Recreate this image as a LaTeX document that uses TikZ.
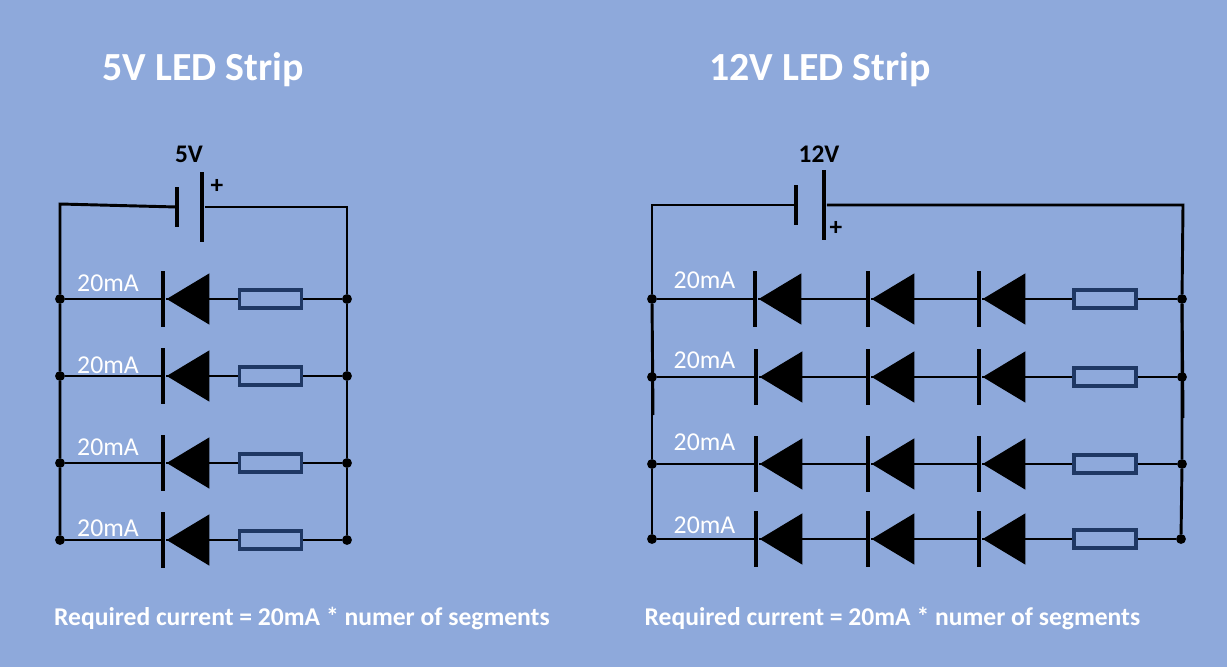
\documentclass[tikz,border=0pt]{standalone}
\usepackage{fontspec}
\setmainfont{Carlito}
\usetikzlibrary{shapes.geometric}
\definecolor{bgblue}{HTML}{8EA9DB}
\definecolor{resblue}{HTML}{1F3864}
\tikzset{
    wire/.style={draw=black, line width=2.2pt},
    dot/.style={circle, fill=black, inner sep=0pt, minimum size=7.4pt},
    barlong/.style={rectangle, fill=black, inner sep=0pt, minimum width=2.5pt, minimum height=42pt},
    tri/.style={isosceles triangle, isosceles triangle stretches, shape border rotate=180, fill=black, inner sep=0pt, minimum height=32pt, minimum width=38.5pt, anchor=apex},
    res/.style={rectangle, draw=resblue, line width=2.5pt, inner sep=0pt, minimum width=46.5pt, minimum height=13.5pt},
    cellshort/.style={rectangle, fill=black, inner sep=0pt, minimum width=2.5pt, minimum height=30pt},
    celllong/.style={rectangle, fill=black, inner sep=0pt, minimum width=2.5pt, minimum height=53pt},
    title/.style={text=white, font=\fontsize{29.9}{32}\selectfont\bfseries},
    volt/.style={text=black, font=\fontsize{19}{21}\selectfont\bfseries},
    amps/.style={text=white, font=\fontsize{19.3}{21}\selectfont},
    note/.style={text=white, font=\fontsize{19.2}{21}\selectfont\bfseries}
}
\begin{document}
\begin{tikzpicture}[x=0.75pt, y=-0.75pt]
    % the background
    \fill[bgblue] (0,0) rectangle (1227,667);
    \useasboundingbox (0,0) rectangle (1227,667);

    % the texts
    \node[title] (title5) at (203,70) {5V LED Strip};
    \node[title] (title12) at (820,70) {12V LED Strip};
    \node[volt] (volt5) at (189,154) {5V};
    \node[volt] (volt12) at (819,154) {12V};
    \node[volt] (plus5) at (217,186) {+};
    \node[volt] (plus12) at (836,228) {+};
    \node[note] (note5) at (302,619) {Required current = 20mA * numer of segments};
    \node[note] (note12) at (892.5,619) {Required current = 20mA * numer of segments};
    \node[amps] (amp1) at (108,283) {20mA};
    \node[amps] (amp2) at (108,365) {20mA};
    \node[amps] (amp3) at (108,447) {20mA};
    \node[amps] (amp4) at (108,528) {20mA};
    \node[amps] (amp5) at (704.5,280) {20mA};
    \node[amps] (amp6) at (704.5,360) {20mA};
    \node[amps] (amp7) at (704.5,442) {20mA};
    \node[amps] (amp8) at (704.5,525) {20mA};

    % 5V strip: battery and corners
    \node[cellshort] (cs5) at (177,207) {};
    \node[celllong] (cl5) at (202,207) {};
    \coordinate (lc5) at (60,204);
    \coordinate (rc5) at (347,207);

    % 5V strip: the junctions
    \node[dot] (la1) at (60,299) {};
    \node[dot] (la2) at (60,376) {};
    \node[dot] (la3) at (60,463) {};
    \node[dot] (la4) at (60,540) {};
    \node[dot] (ra1) at (347,299) {};
    \node[dot] (ra2) at (347,376) {};
    \node[dot] (ra3) at (347,463) {};
    \node[dot] (ra4) at (347,540) {};

    % 5V strip: the diodes and resistors
    \node[barlong] (ba1) at (163,299) {};
    \node[barlong] (ba2) at (163,376) {};
    \node[barlong] (ba3) at (163,463) {};
    \node[barlong] (ba4) at (163,540) {};
    \node[tri] (ta1) at (166,299) {};
    \node[tri] (ta2) at (166,376) {};
    \node[tri] (ta3) at (166,463) {};
    \node[tri] (ta4) at (166,540) {};
    \node[res] (ma1) at (270.5,299) {};
    \node[res] (ma2) at (270.5,376) {};
    \node[res] (ma3) at (270.5,463) {};
    \node[res] (ma4) at (270.5,540) {};

    % 5V strip: the wires
    \draw[wire] (cs5) -- (lc5) -- (la1) -- (la2) -- (la3) -- (la4);
    \draw[wire] (cl5.east) ++(1,0) -- (rc5) -- (ra1) -- (ra2) -- (ra3) -- (ra4);
    \draw[wire] (la1) -- (ba1);
    \draw[wire] (la2) -- (ba2);
    \draw[wire] (la3) -- (ba3);
    \draw[wire] (la4) -- (ba4);
    \draw[wire] (ta1.apex) -- (ma1);
    \draw[wire] (ta2.apex) -- (ma2);
    \draw[wire] (ta3.apex) -- (ma3);
    \draw[wire] (ta4.apex) -- (ma4);
    \draw[wire] (ma1) -- (ra1);
    \draw[wire] (ma2) -- (ra2);
    \draw[wire] (ma3) -- (ra3);
    \draw[wire] (ma4) -- (ra4);

    % 12V strip: battery and corners
    \node[cellshort] (cs12) at (796,205) {};
    \node[celllong] (cl12) at (824,205) {};
    \coordinate (lc12) at (652,205);
    \coordinate (rc12) at (1183,205);

    % 12V strip: the junctions
    \node[dot] (lb1) at (652,299) {};
    \node[dot] (lb2) at (652,377) {};
    \node[dot] (lb3) at (652,464) {};
    \node[dot] (lb4) at (652,539) {};
    \node[dot] (rb1) at (1182,299) {};
    \node[dot] (rb2) at (1182,377) {};
    \node[dot] (rb3) at (1182,464) {};
    \node[dot] (rb4) at (1181,539) {};
    \coordinate (le12) at (653,415);
    \coordinate (re12) at (1183,418);

    % 12V strip: the diodes and resistors
    \node[barlong] (bb1) at (755,299) {};
    \node[barlong] (bb2) at (756,377) {};
    \node[barlong] (bb3) at (756,464) {};
    \node[barlong] (bb4) at (756,539) {};
    \node[tri] (tb1) at (758,299) {};
    \node[tri] (tb2) at (759,377) {};
    \node[tri] (tb3) at (759,464) {};
    \node[tri] (tb4) at (759,539) {};
    \node[barlong] (bc1) at (868,299) {};
    \node[barlong] (bc2) at (868,377) {};
    \node[barlong] (bc3) at (868,464) {};
    \node[barlong] (bc4) at (868,539) {};
    \node[tri] (tc1) at (871,299) {};
    \node[tri] (tc2) at (871,377) {};
    \node[tri] (tc3) at (871,464) {};
    \node[tri] (tc4) at (871,539) {};
    \node[barlong] (bd1) at (979,299) {};
    \node[barlong] (bd2) at (979,377) {};
    \node[barlong] (bd3) at (979,464) {};
    \node[barlong] (bd4) at (979,539) {};
    \node[tri] (td1) at (982,299) {};
    \node[tri] (td2) at (982,377) {};
    \node[tri] (td3) at (982,464) {};
    \node[tri] (td4) at (982,539) {};
    \node[res] (mb1) at (1105,299) {};
    \node[res] (mb2) at (1105,377) {};
    \node[res] (mb3) at (1105,464) {};
    \node[res] (mb4) at (1105,539) {};

    % 12V strip: the wires
    \draw[wire] (cs12) -- (lc12) -- (lb1) -- (lb2) -- (lb3) -- (lb4);
    \draw[wire] (cl12.east) ++(1,0) -- (rc12) -- (rb1) -- (rb2) -- (rb3) -- (rb4);
    \draw[wire] (lb1) -- (le12);
    \draw[wire] (rb1) -- (re12);
    \draw[wire] (lb1) -- (bb1);
    \draw[wire] (lb2) -- (bb2);
    \draw[wire] (lb3) -- (bb3);
    \draw[wire] (lb4) -- (bb4);
    \draw[wire] (tb1.apex) -- (bc1);
    \draw[wire] (tb2.apex) -- (bc2);
    \draw[wire] (tb3.apex) -- (bc3);
    \draw[wire] (tb4.apex) -- (bc4);
    \draw[wire] (tc1.apex) -- (bd1);
    \draw[wire] (tc2.apex) -- (bd2);
    \draw[wire] (tc3.apex) -- (bd3);
    \draw[wire] (tc4.apex) -- (bd4);
    \draw[wire] (td1.apex) -- (mb1);
    \draw[wire] (td2.apex) -- (mb2);
    \draw[wire] (td3.apex) -- (mb3);
    \draw[wire] (td4.apex) -- (mb4);
    \draw[wire] (mb1) -- (rb1);
    \draw[wire] (mb2) -- (rb2);
    \draw[wire] (mb3) -- (rb3);
    \draw[wire] (mb4) -- (rb4);

\end{tikzpicture}
\end{document}
